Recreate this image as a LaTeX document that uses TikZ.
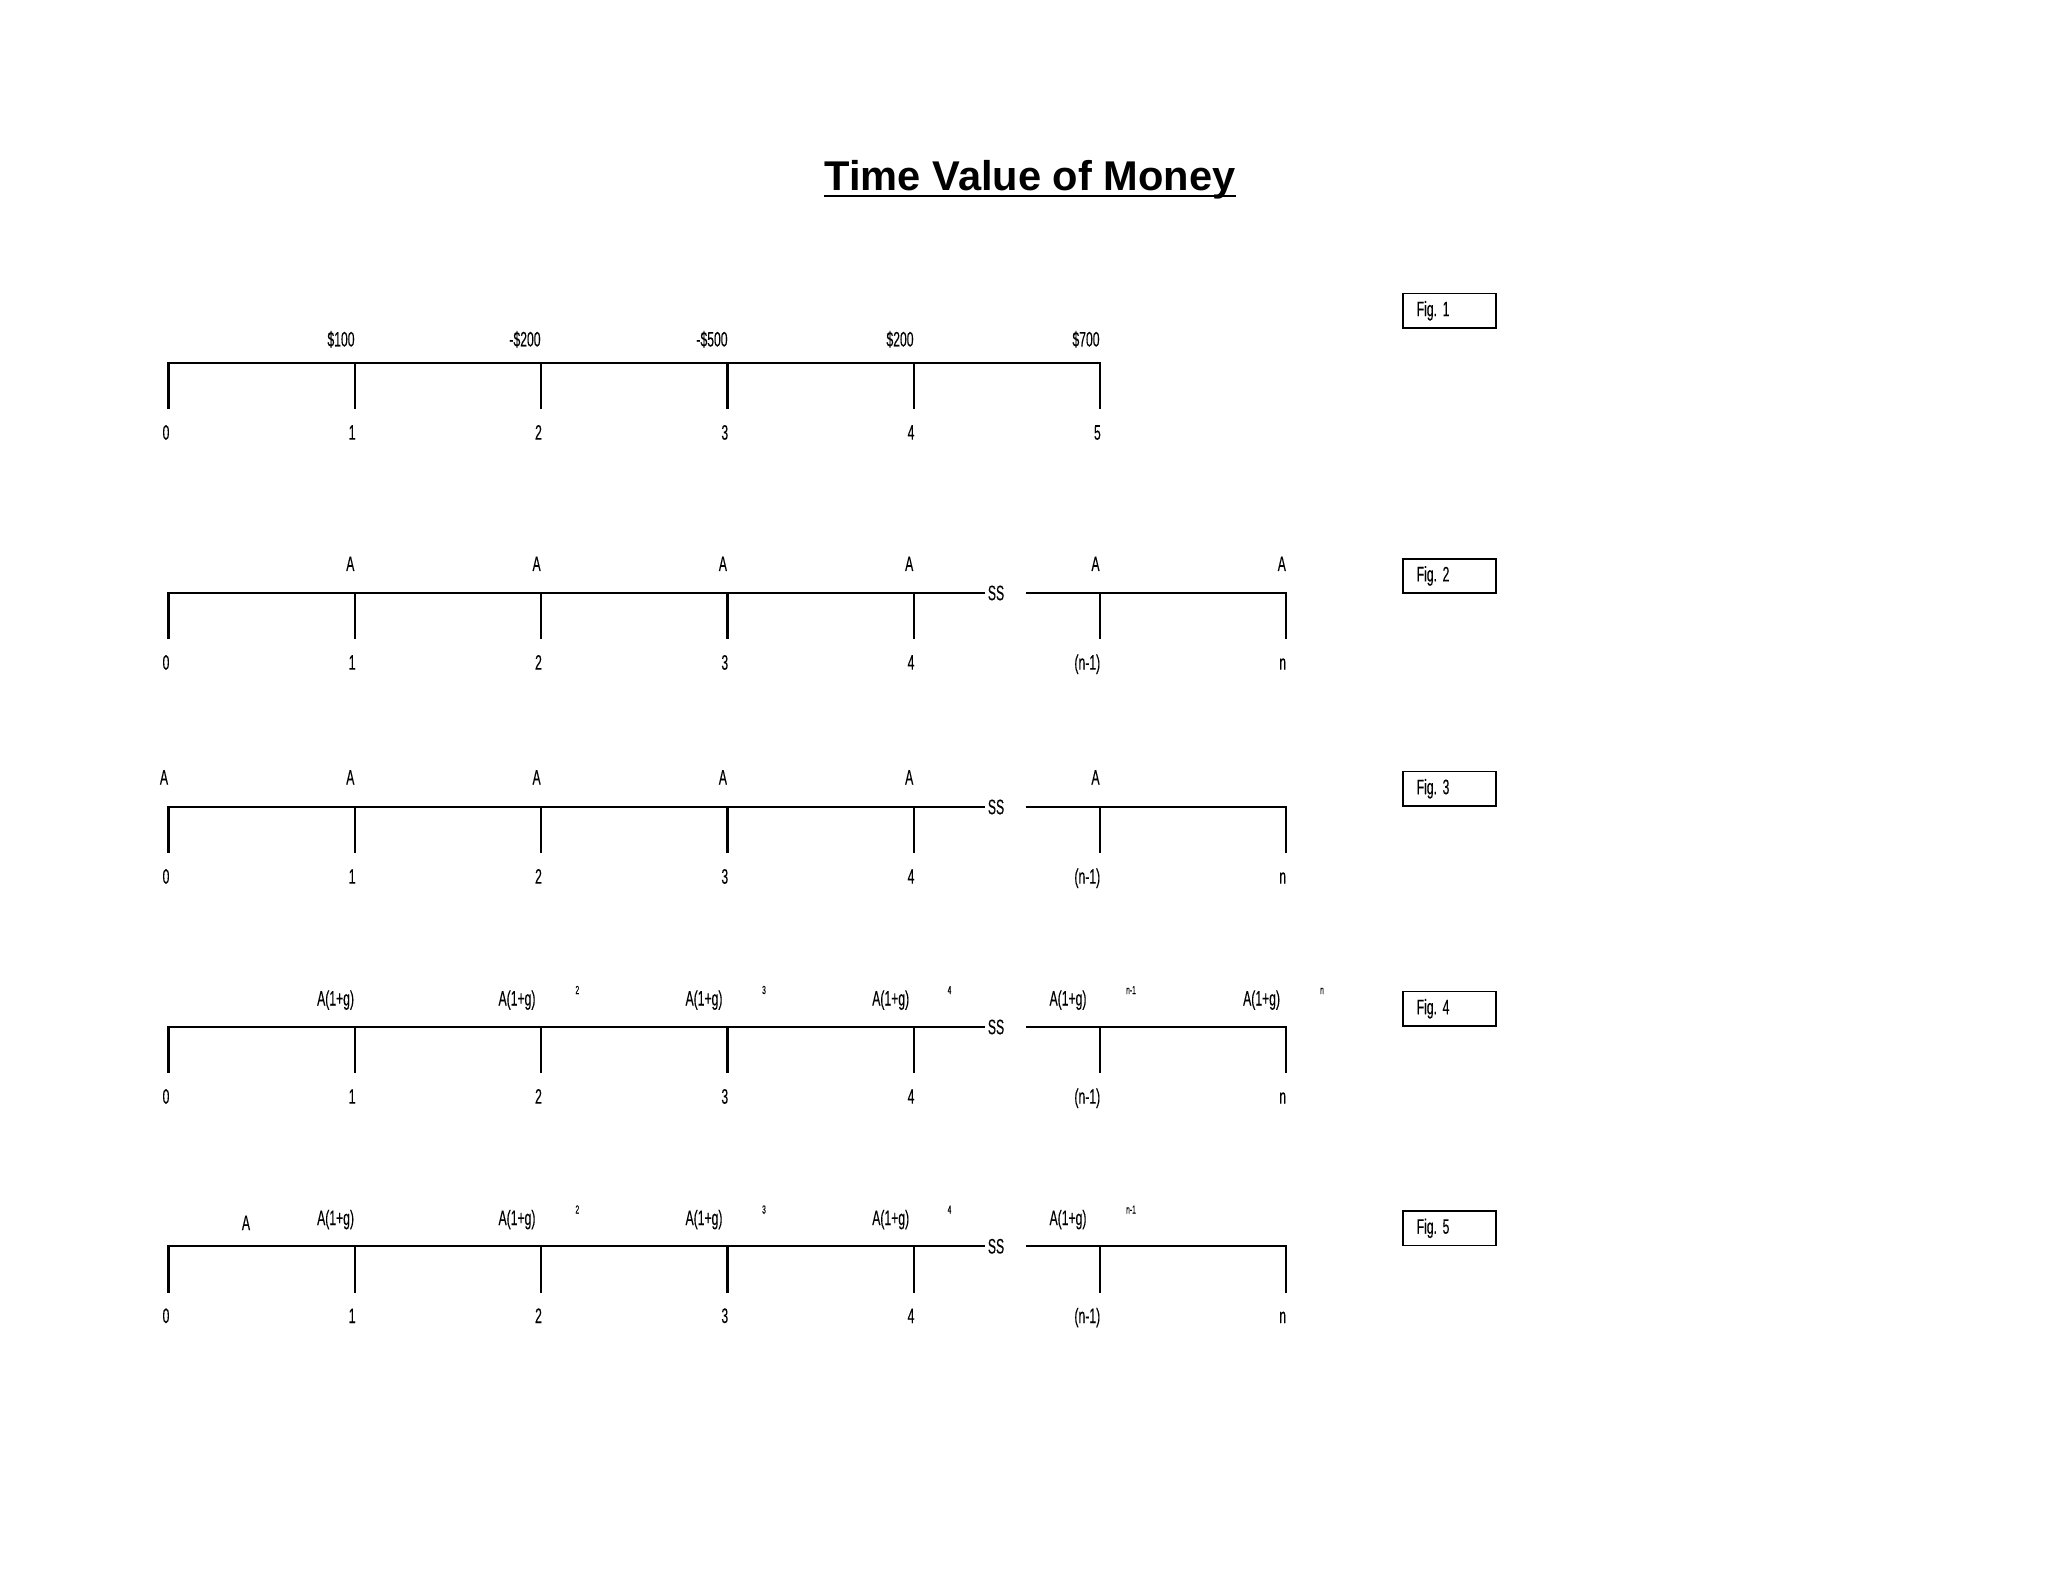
\documentclass[tikz,border=0pt]{standalone}
\usepackage{fontspec}
\setmainfont{Liberation Sans}
\newfontfamily\nar[FakeStretch=0.58,FakeBold=0.2]{Liberation Sans}
\begin{document}
\begin{tikzpicture}[x=0.5pt,y=-0.5pt,
  tl/.style={line width=1.1pt},
  lab/.style={font=\nar\fontsize{10.5}{12}\selectfont, inner sep=0pt, anchor=base},
  suplab/.style={font=\nar\fontsize{5.8}{7}\selectfont, inner sep=0pt, anchor=base},
  figbox/.style={draw, line width=0.9pt, font=\nar\fontsize{10.5}{12}\selectfont,
    minimum height=17.25pt, text width=32.5pt, inner xsep=7pt, inner ysep=0pt, align=left},
  titlestyle/.style={font=\bfseries\fontsize{20.8}{24}\selectfont, inner sep=0pt, anchor=base}]
\useasboundingbox (0,0) rectangle (2048,1582);

% title
\node[titlestyle] (title) at (1030,190.5) {Time Value of Money};
\draw[line width=1.2pt] ([yshift=-2.8pt]title.base west) -- ([yshift=-2.8pt]title.base east);

% coordinates of the time lines
\foreach \r/\L in {1/362.7,2/592.7,3/806.7,4/1026.7,5/1246}{
  \foreach \i/\x in {0/168.5,1/354.8,2/541.1,3/727.4,4/913.7,5/1100,6/1286.3}{
    \coordinate (r\r t\i) at (\x,\L);
    \coordinate (r\r b\i) at (\x,\L+46.5);
  }
  \coordinate (r\r sa) at (985,\L);
  \coordinate (r\r sb) at (1026,\L);
}

% Fig 1 line
\draw[tl] (r1b0) -- (r1t0) -- (r1t5) -- (r1b5);
\foreach \i in {1,...,4}{\draw[tl] (r1t\i) -- (r1b\i);}

% Fig 2-5 lines
\foreach \r in {2,...,5}{
  \draw[tl] (r\r b0) -- (r\r t0) -- (r\r sa);
  \draw[tl] (r\r sb) -- (r\r t6) -- (r\r b6);
  \foreach \i in {1,...,5}{\draw[tl] (r\r t\i) -- (r\r b\i);}
  \node[lab, anchor=base west] (ss\r) at ([shift={(2.5,7.5)}]r\r sa) {SS};
}

% bottom labels
\foreach \r/\L in {1/362.7,2/592.7,3/806.7,4/1026.7,5/1246}{
  \foreach \i/\x in {0/166,1/352.2,2/538.5,3/724.8,4/911}{
    \node[lab] (r\r n\i) at (\x,\L+77) {\i};
  }
}
\node[lab] (r1n5) at (1097.4,439.7) {5};
\foreach \r/\L in {2/592.7,3/806.7,4/1026.7,5/1246}{
  \node[lab] (r\r n5) at (1087.3,\L+77) {(n-1)};
  \node[lab] (r\r n6) at (1282.7,\L+77) {n};
}

% Fig 1 top labels
\node[lab] (v1) at (341,346.5) {\$100};
\node[lab] (v2) at (525,346.5) {-\$200};
\node[lab] (v3) at (712,346.5) {-\$500};
\node[lab] (v4) at (900,346.5) {\$200};
\node[lab] (v5) at (1086,346.5) {\$700};

% Fig 2 top labels
\foreach \i/\x in {1/350.3,2/536.6,3/722.9,4/909.2,5/1095.5,6/1281.8}{
  \node[lab] (r2a\i) at (\x,571) {A};
}
% Fig 3 top labels
\foreach \i/\x in {0/164,1/350.3,2/536.6,3/722.9,4/909.2,5/1095.5}{
  \node[lab] (r3a\i) at (\x,784.5) {A};
}
% Fig 4 top labels
\foreach \i/\x in {1/335.6,2/517,3/704,4/890.7,5/1068,6/1261.6}{
  \node[lab] (r4a\i) at (\x,1005.5) {A(1+g)};
}
\foreach \i/\x/\t in {2/577.3/2,3/764/3,4/949.5/4,5/1131/n-1,6/1322/n}{
  \node[suplab] (r4e\i) at (\x,994) {\t};
}
% Fig 5 top labels
\node[lab] (r5a0) at (246,1230) {A};
\foreach \i/\x in {1/335.6,2/517,3/704,4/890.7,5/1068}{
  \node[lab] (r5a\i) at (\x,1225) {A(1+g)};
}
\foreach \i/\x/\t in {2/577.3/2,3/764/3,4/949.5/4,5/1131/n-1}{
  \node[suplab] (r5e\i) at (\x,1213.5) {\t};
}

% figure boxes
\node[figbox] (fig1) at (1449.2,310.8) {Fig.\kern2.8pt1};
\node[figbox] (fig2) at (1449.2,576) {Fig.\kern2.8pt2};
\node[figbox] (fig3) at (1449.2,788.8) {Fig.\kern2.8pt3};
\node[figbox] (fig4) at (1449.2,1008.8) {Fig.\kern2.8pt4};
\node[figbox] (fig5) at (1449.2,1228.3) {Fig.\kern2.8pt5};
\end{tikzpicture}
\end{document}
